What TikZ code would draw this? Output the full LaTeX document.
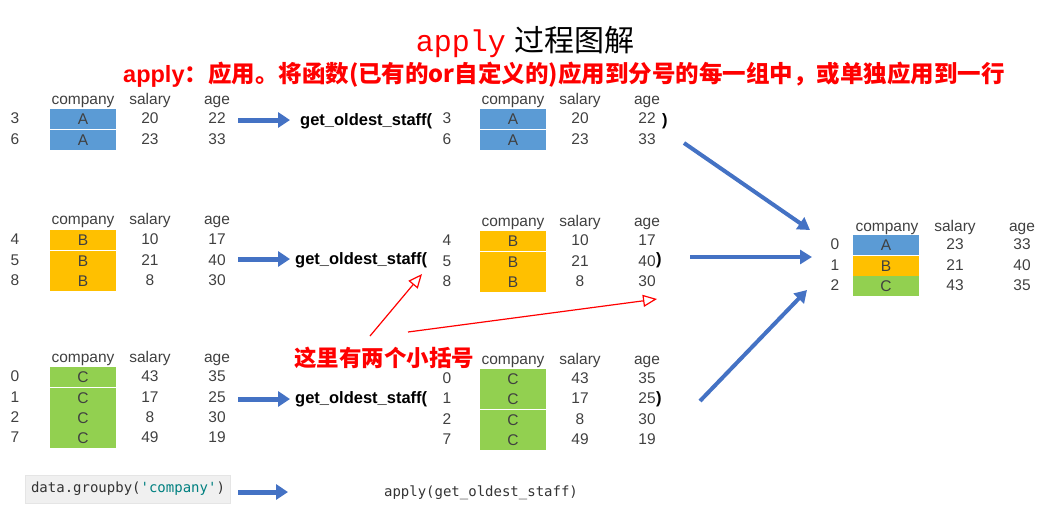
\documentclass[tikz,border=0pt]{standalone}
\usepackage{fontspec}
\setmainfont{Liberation Sans}
\setmonofont{DejaVu Sans Mono}
\newfontfamily\cjk{Noto Sans CJK SC}
\usetikzlibrary{arrows.meta}
\definecolor{cblue}{RGB}{91,155,213}
\definecolor{corange}{RGB}{255,192,0}
\definecolor{cgreen}{RGB}{146,208,80}
\definecolor{arrblue}{RGB}{68,114,196}
\definecolor{teal}{RGB}{0,128,128}
\tikzset{
 t/.style={font=\fontsize{15.5}{17}\selectfont, text=black!75, inner sep=0pt, text height=11pt, text depth=3pt},
 cell/.style={minimum width=66pt, minimum height=20.5pt, inner sep=0pt, font=\fontsize{15.5}{17}\selectfont, text=black!75},
 fn/.style={font=\bfseries\fontsize{16.5}{18}\selectfont, inner sep=0pt, anchor=west},
 barr/.style={draw=arrblue, line width=5pt, -{Triangle[length=12pt,width=15pt]}},
 larr/.style={draw=arrblue, line width=4pt, -{Triangle[length=12pt,width=14pt]}},
 rarr/.style={draw=red, line width=1.2pt, -{Triangle[open,length=14pt,width=12pt,fill=white]}}
}
\begin{document}
\begin{tikzpicture}[x=1pt,y=-1pt]
\useasboundingbox (0,0) rectangle (1047,523);
% title
\node[inner sep=0pt] (title) at (525,42) {\textcolor{red}{\fontsize{30}{32}\selectfont\fontspec{Liberation Mono}apply}\fontsize{30}{32}\selectfont\ \cjk 过程图解};
\node[inner sep=0pt, text=red, anchor=west] (sub) at (123,75) {\fontsize{23.5}{25}\selectfont\bfseries apply\cjk\bfseries ：应用。将函数(已有的or自定义的)应用到分号的每一组中，或单独应用到一行};
\newcommand{\tblhead}[5]{%
 \node[t] (#1h1) at (#3,#5) {company};
 \node[t] (#1h2) at (#3+67,#5) {salary};
 \node[t] (#1h3) at (#3+134,#5) {age};}
\newcommand{\tblrow}[8]{%
 \node[t] (#1i) at (#2,#4) {#5};
 \node[cell, fill=\rowcol] (#1c) at (#3,#4) {#6};
 \node[t] (#1s) at (#3+67,#4) {#7};
 \node[t] (#1a) at (#3+134,#4) {#8};}
% left tables
\tblhead{La}{15}{83}{0}{100}
\def\rowcol{cblue}
\tblrow{La1}{15}{83}{119}{3}{A}{20}{22}
\tblrow{La2}{15}{83}{140}{6}{A}{23}{33}
\tblhead{Lb}{15}{83}{0}{220}
\def\rowcol{corange}
\tblrow{Lb1}{15}{83}{240}{4}{B}{10}{17}
\tblrow{Lb2}{15}{83}{261}{5}{B}{21}{40}
\tblrow{Lb3}{15}{83}{281}{8}{B}{8}{30}
\tblhead{Lc}{15}{83}{0}{358}
\def\rowcol{cgreen}
\tblrow{Lc1}{15}{83}{377}{0}{C}{43}{35}
\tblrow{Lc2}{15}{83}{398}{1}{C}{17}{25}
\tblrow{Lc3}{15}{83}{418}{2}{C}{8}{30}
\tblrow{Lc4}{15}{83}{438}{7}{C}{49}{19}
% middle tables
\tblhead{Ma}{447}{513}{0}{100}
\def\rowcol{cblue}
\tblrow{Ma1}{447}{513}{119}{3}{A}{20}{22}
\tblrow{Ma2}{447}{513}{140}{6}{A}{23}{33}
\tblhead{Mb}{447}{513}{0}{222}
\def\rowcol{corange}
\tblrow{Mb1}{447}{513}{241}{4}{B}{10}{17}
\tblrow{Mb2}{447}{513}{262}{5}{B}{21}{40}
\tblrow{Mb3}{447}{513}{282}{8}{B}{8}{30}
\tblhead{Mc}{447}{513}{0}{360}
\def\rowcol{cgreen}
\tblrow{Mc1}{447}{513}{379}{0}{C}{43}{35}
\tblrow{Mc2}{447}{513}{399}{1}{C}{17}{25}
\tblrow{Mc3}{447}{513}{420}{2}{C}{8}{30}
\tblrow{Mc4}{447}{513}{440}{7}{C}{49}{19}
% result
\node[t] (Rh1) at (887,227) {company};
\node[t] (Rh2) at (955,227) {salary};
\node[t] (Rh3) at (1022,227) {age};
\node[t] (R1i) at (835,245) {0};
\node[cell, fill=cblue] (R1c) at (886,245) {A};
\node[t] (R1s) at (955,245) {23}; \node[t] (R1a) at (1022,245) {33};
\node[t] (R2i) at (835,266) {1};
\node[cell, fill=corange] (R2c) at (886,266) {B};
\node[t] (R2s) at (955,266) {21}; \node[t] (R2a) at (1022,266) {40};
\node[t] (R3i) at (835,286) {2};
\node[cell, fill=cgreen] (R3c) at (886,286) {C};
\node[t] (R3s) at (955,286) {43}; \node[t] (R3a) at (1022,286) {35};
% function labels
\node[fn] (f1) at (300,121) {get\_oldest\_staff(};
\node[fn] (p1) at (662,121) {)};
\node[fn] (f2) at (295,260) {get\_oldest\_staff(};
\node[fn] (p2) at (656,260) {)};
\node[fn] (f3) at (295,399) {get\_oldest\_staff(};
\node[fn] (p3) at (656,399) {)};
% blue arrows
\coordinate (a1s) at (238,120); \coordinate (a1e) at (290,120);
\coordinate (a2s) at (238,259); \coordinate (a2e) at (290,259);
\coordinate (a3s) at (238,399); \coordinate (a3e) at (290,399);
\coordinate (a4s) at (238,492); \coordinate (a4e) at (288,492);
\draw[barr] (a1s) -- (a1e);
\draw[barr] (a2s) -- (a2e);
\draw[barr] (a3s) -- (a3e);
\draw[barr] (a4s) -- (a4e);
\coordinate (b1s) at (684,143); \coordinate (b1e) at (810,230);
\coordinate (b2s) at (690,257); \coordinate (b2e) at (812,257);
\coordinate (b3s) at (700,401); \coordinate (b3e) at (807,290);
\draw[larr] (b1s) -- (b1e);
\draw[larr] (b2s) -- (b2e);
\draw[larr] (b3s) -- (b3e);
% red note
\node[inner sep=0pt, text=red] (note) at (384,358) {\cjk\bfseries\fontsize{22.5}{24}\selectfont 这里有两个小括号};
\coordinate (r1s) at (370,336); \coordinate (r1e) at (422,274);
\coordinate (r2s) at (408,332); \coordinate (r2e) at (657,299);
\draw[rarr] (r1s) -- (r1e);
\draw[rarr] (r2s) -- (r2e);
% bottom code
\node[fill=black!6, draw=black!10, minimum width=205pt, minimum height=28pt, inner sep=0pt, font=\ttfamily\fontsize{14}{16}\selectfont, text=black!80] (code1) at (128,489) {data.groupby(\textcolor{teal}{'company'})};
\node[inner sep=0pt, font=\ttfamily\fontsize{14}{16}\selectfont, text=black!80] (code2) at (481,493) {apply(get\_oldest\_staff)};
\end{tikzpicture}
\end{document}
